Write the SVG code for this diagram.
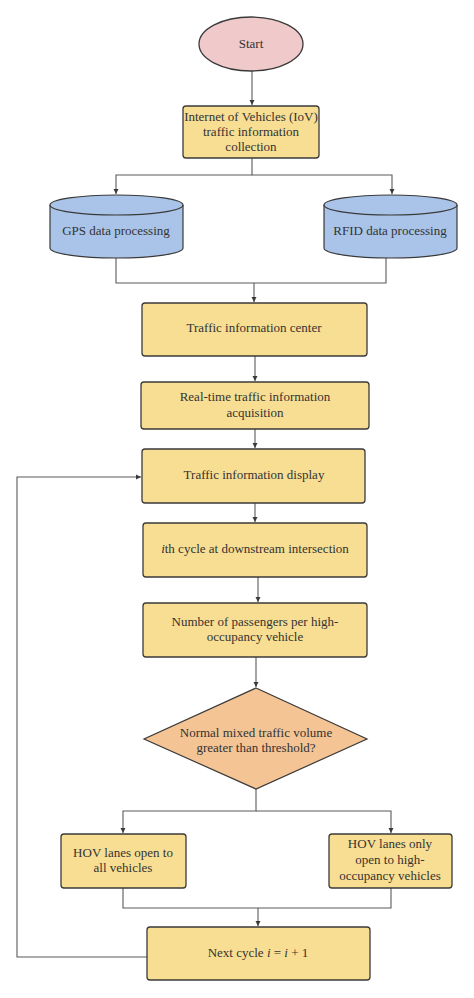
<svg xmlns="http://www.w3.org/2000/svg" width="474" height="998" viewBox="0 0 474 998">
<defs>
<style>
.box{fill:#F8DE92;stroke:#3a3a3a;stroke-width:1.3}
.cyl{fill:#A9C4E8;stroke:#3a3a3a;stroke-width:1.2}
.dia{fill:#F4C495;stroke:#3a3a3a;stroke-width:1.2}
.oval{fill:#F0CACA;stroke:#3a3a3a;stroke-width:1.3}
.t{font-family:"Liberation Serif","Times New Roman",serif;font-size:13px;fill:#333;text-anchor:middle}
.c{fill:none;stroke:#5a5a5a;stroke-width:1.1}
</style>
<marker id="ah" markerWidth="6" markerHeight="6" refX="5" refY="3" orient="auto" markerUnits="userSpaceOnUse">
<path d="M0,0.5 L5,3 L0,5.5 z" fill="#3a3a3a"/>
</marker>
</defs>
<rect width="474" height="998" fill="#fff"/>
<g id="connectors">
<path class="c" d="M252,71 V105" marker-end="url(#ah)"/>
<path class="c" d="M252,158 V175 H116 V194" marker-end="url(#ah)"/>
<path class="c" d="M252,175 H392 V194" marker-end="url(#ah)"/>
<path class="c" d="M116,258 V283 H386 V258"/>
<path class="c" d="M254,283 V302" marker-end="url(#ah)"/>
<path class="c" d="M255,356 V381" marker-end="url(#ah)"/>
<path class="c" d="M255,429 V448" marker-end="url(#ah)"/>
<path class="c" d="M255,503 V522" marker-end="url(#ah)"/>
<path class="c" d="M258,577 V602" marker-end="url(#ah)"/>
<path class="c" d="M256,657 V687" marker-end="url(#ah)"/>
<path class="c" d="M256,789 V811 H123 V833" marker-end="url(#ah)"/>
<path class="c" d="M256,811 H391 V833" marker-end="url(#ah)"/>
<path class="c" d="M123,888 V908 H391 V888"/>
<path class="c" d="M258,908 V926" marker-end="url(#ah)"/>
<path class="c" d="M147,957 H17 V477 H141" marker-end="url(#ah)"/>
</g>
<g id="start">
<ellipse class="oval" cx="251" cy="44" rx="52" ry="27"/>
<text class="t" x="251" y="48">Start</text>
</g>
<g id="iov">
<rect class="box" x="183" y="106" width="136" height="52" rx="3"/>
<text class="t" x="251" y="121">Internet of Vehicles (IoV)</text>
<text class="t" x="251" y="136">traffic information</text>
<text class="t" x="251" y="151">collection</text>
</g>
<g id="gps">
<path class="cyl" d="M50,205 A66.5,10 0 0 1 183,205 V248 A66.5,10 0 0 1 50,248 Z"/>
<path class="cyl" style="fill:none" d="M50,205 A66.5,10 0 0 0 183,205"/>
<text class="t" x="116" y="235">GPS data processing</text>
</g>
<g id="rfid">
<path class="cyl" d="M324,205 A66.5,10 0 0 1 457,205 V248 A66.5,10 0 0 1 324,248 Z"/>
<path class="cyl" style="fill:none" d="M324,205 A66.5,10 0 0 0 457,205"/>
<text class="t" x="390" y="235">RFID data processing</text>
</g>
<g id="center">
<rect class="box" x="142" y="303" width="225" height="53" rx="3"/>
<text class="t" x="254" y="332">Traffic information center</text>
</g>
<g id="realtime">
<rect class="box" x="141" y="382" width="228" height="47" rx="3"/>
<text class="t" x="255" y="401">Real-time traffic information</text>
<text class="t" x="255" y="417">acquisition</text>
</g>
<g id="display">
<rect class="box" x="142" y="449" width="223" height="54" rx="3"/>
<text class="t" x="254" y="479">Traffic information display</text>
</g>
<g id="cycle">
<rect class="box" x="143" y="523" width="224" height="54" rx="3"/>
<text class="t" x="255" y="553"><tspan font-style="italic">i</tspan>th cycle at downstream intersection</text>
</g>
<g id="passengers">
<rect class="box" x="143" y="603" width="224" height="54" rx="3"/>
<text class="t" x="255" y="626">Number of passengers per high-</text>
<text class="t" x="255" y="641">occupancy vehicle</text>
</g>
<g id="decision">
<polygon class="dia" points="256,688 367,739 256,789 144,739"/>
<text class="t" x="256" y="737">Normal mixed traffic volume</text>
<text class="t" x="256" y="752">greater than threshold?</text>
</g>
<g id="hov-all">
<rect class="box" x="61" y="834" width="125" height="54" rx="3"/>
<text class="t" x="123" y="857">HOV lanes open to</text>
<text class="t" x="123" y="872">all vehicles</text>
</g>
<g id="hov-only">
<rect class="box" x="329" y="834" width="123" height="54" rx="3"/>
<text class="t" x="390" y="848">HOV lanes only</text>
<text class="t" x="390" y="864">open to high-</text>
<text class="t" x="390" y="880">occupancy vehicles</text>
</g>
<g id="next">
<rect class="box" x="147" y="927" width="223" height="53" rx="3"/>
<text class="t" x="258" y="957">Next cycle <tspan font-style="italic">i</tspan> = <tspan font-style="italic">i</tspan> + 1</text>
</g>
</svg>
